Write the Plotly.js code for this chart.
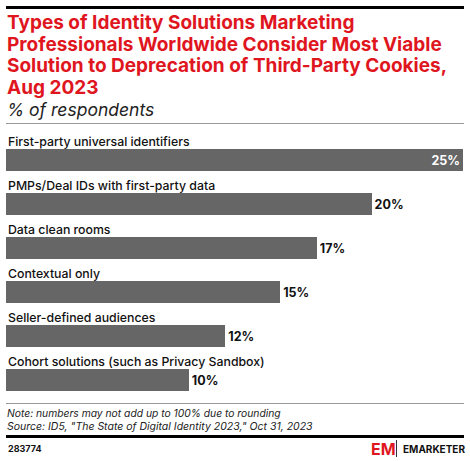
<!DOCTYPE html>
<html><head><meta charset="utf-8">
<script src="https://cdn.plot.ly/plotly-3.0.1.min.js"></script>
<style>html,body{margin:0;padding:0;background:#fff}#chart{width:470px;height:461px}</style>
</head><body><div id="chart"></div>
<script>
const categories = [
  "First-party universal identifiers",
  "PMPs/Deal IDs with first-party data",
  "Data clean rooms",
  "Contextual only",
  "Seller-defined audiences",
  "Cohort solutions (such as Privacy Sandbox)"
];
const values = [25, 20, 17, 15, 12, 10];
const valueLabels = values.map(v => v + "%");
const titleLines = [
  "Types of Identity Solutions Marketing",
  "Professionals Worldwide Consider Most Viable",
  "Solution to Deprecation of Third-Party Cookies,",
  "Aug 2023"
];
const subtitleText = "% of respondents";
const noteText = "Note: numbers may not add up to 100% due to rounding";
const sourceText = "Source: ID5, \"The State of Digital Identity 2023,\" Oct 31, 2023";
const chartId = "283774";

const FONT = "Inter, Roboto, 'Liberation Sans', sans-serif";
const W = 470, H = 461;
const idx = categories.map((c, i) => i);
const maxV = Math.max(...values);

const trace = {
  type: "bar",
  orientation: "h",
  y: idx,
  x: values,
  width: 0.5,
  marker: {color: "#666666"},
  text: valueLabels,
  textposition: values.map(v => v === maxV ? "inside" : "outside"),
  insidetextanchor: "end",
  textfont: {family: FONT, size: 12.5, color: values.map(v => v === maxV ? "#ffffff" : "#111111"), weight: 700},
  cliponaxis: false,
  hoverinfo: "none"
};

function px2y(p){ return (p - 160) / 44; }
const plotTop = 130, plotBot = 400;
function py(p){ return (plotBot - p) / (plotBot - plotTop); }
function pxx(p){ return (p - 6) / 457; }

const annotations = [];
categories.forEach((c, i) => {
  annotations.push({
    xref: "paper", yref: "y", x: 0, y: i - 0.43, xanchor: "left", yanchor: "middle",
    text: c, showarrow: false, font: {family: FONT, size: 12.3, color: "#111", weight: 500}
  });
});
const titleCenters = [22.5, 44, 65.5, 87];
titleLines.forEach((t, i) => {
  annotations.push({
    xref: "paper", yref: "paper", x: pxx(5), y: py(titleCenters[i]), xanchor: "left", yanchor: "middle",
    text: t, showarrow: false, font: {family: FONT, size: 19, color: "#e0161f", weight: 700}
  });
});
annotations.push(
  {xref: "paper", yref: "paper", x: pxx(5), y: py(109), xanchor: "left", yanchor: "middle",
   text: "<i>" + subtitleText + "</i>", showarrow: false, font: {family: FONT, size: 17.5, color: "#222"}},
  {xref: "paper", yref: "paper", x: pxx(5), y: py(413), xanchor: "left", yanchor: "middle",
   text: "<i>" + noteText + "</i>", showarrow: false, font: {family: FONT, size: 10.3, color: "#222"}},
  {xref: "paper", yref: "paper", x: pxx(5), y: py(426.5), xanchor: "left", yanchor: "middle",
   text: "<i>" + sourceText + "</i>", showarrow: false, font: {family: FONT, size: 10.5, color: "#222"}},
  {xref: "paper", yref: "paper", x: pxx(6), y: py(448.5), xanchor: "left", yanchor: "middle",
   text: "<b>" + chartId + "</b>", showarrow: false, font: {family: FONT, size: 9, color: "#111"}},
  {xref: "paper", yref: "paper", x: pxx(369), y: py(448.5), xanchor: "left", yanchor: "middle",
   text: "<b>EM</b>", showarrow: false, font: {family: FONT, size: 16, color: "#e0161f"}},
  {xref: "paper", yref: "paper", x: pxx(401), y: py(448.5), xanchor: "left", yanchor: "middle",
   text: "<b>EMARKETER</b>", showarrow: false, font: {family: FONT, size: 10, color: "#111"}}
);

const layout = {
  width: W, height: H,
  margin: {l: 6, r: 7, t: plotTop, b: H - plotBot, pad: 0},
  paper_bgcolor: "#fff", plot_bgcolor: "#fff",
  showlegend: false,
  bargap: 0,
  xaxis: {range: [0, 25], visible: false, fixedrange: true},
  yaxis: {range: [px2y(plotBot), px2y(plotTop)], visible: false, fixedrange: true},
  font: {family: FONT},
  shapes: [
    {type: "line", xref: "paper", yref: "paper", x0: pxx(6), x1: pxx(464), y0: py(7.5), y1: py(7.5), line: {color: "#000", width: 3}},
    {type: "line", xref: "paper", yref: "paper", x0: pxx(6), x1: pxx(464), y0: py(123.5), y1: py(123.5), line: {color: "#999", width: 1}},
    {type: "line", xref: "paper", yref: "paper", x0: pxx(6), x1: pxx(464), y0: py(403.5), y1: py(403.5), line: {color: "#999", width: 1}},
    {type: "line", xref: "paper", yref: "paper", x0: pxx(6), x1: pxx(464), y0: py(436.5), y1: py(436.5), line: {color: "#000", width: 3}},
    {type: "line", xref: "paper", yref: "paper", x0: pxx(396.5), x1: pxx(396.5), y0: py(440), y1: py(457), line: {color: "#333", width: 1}}
  ],
  annotations: annotations
};
Plotly.newPlot("chart", [trace], layout, {displayModeBar: false, staticPlot: true});
</script></body></html>
